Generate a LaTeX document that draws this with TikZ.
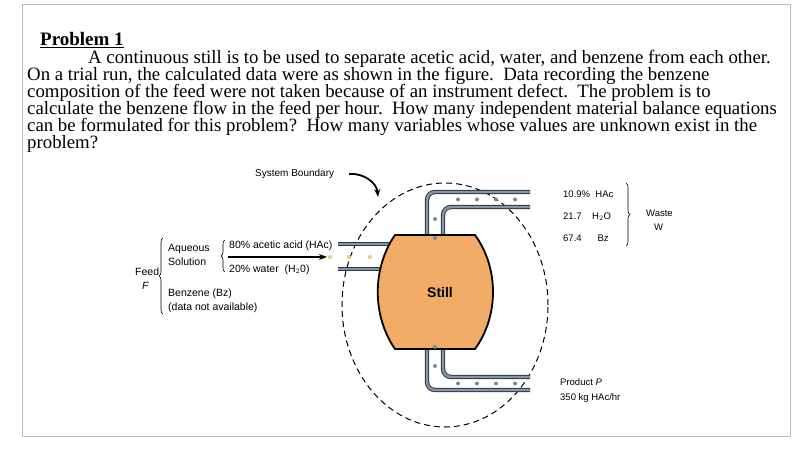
\documentclass[tikz,border=0pt]{standalone}
\usepackage{fontspec}
\setmainfont{Liberation Serif}
\setsansfont{Liberation Sans}
\usetikzlibrary{calc,arrows.meta,decorations.pathreplacing,shapes.geometric}
\definecolor{stillorange}{RGB}{240,172,102}
\definecolor{tubedark}{RGB}{45,55,68}
\definecolor{tubegray}{RGB}{135,150,165}
\definecolor{dotgray}{RGB}{110,140,150}
\definecolor{dotyellow}{RGB}{230,200,110}
\begin{document}
\begin{tikzpicture}[x=1pt,y=-1pt,
  body/.style={anchor=base west,inner sep=0pt,font=\fontsize{18.8}{17}\selectfont},
  lbl/.style={anchor=base west,inner sep=0pt,font=\sffamily\fontsize{10.5}{12}\selectfont},
  tube/.style={draw=tubedark,double=tubegray,double distance=2.4pt,line width=1pt,rounded corners=8pt},
  brc/.style={decorate,decoration={brace,amplitude=4pt},semithick}]
\useasboundingbox (0,0) rectangle (800,449);
\draw[black!25,line width=1pt] (22,5) rectangle (790,436);

% problem text
\node[body,font=\bfseries\fontsize{19}{17}\selectfont] (title) at (40,46) {\underline{Problem 1}};
\node[body] (l1) at (88,64) {A continuous still is to be used to separate acetic acid, water, and benzene from each other.};
\node[body] (l2) at (27,81) {On a trial run, the calculated data were as shown in the figure.\ \ Data recording the benzene};
\node[body] (l3) at (27,98) {composition of the feed were not taken because of an instrument defect.\ \ The problem is to};
\node[body] (l4) at (27,115) {calculate the benzene flow in the feed per hour.\ \ How many independent material balance equations};
\node[body] (l5) at (27,132) {can be formulated for this problem?\ \ How many variables whose values are unknown exist in the};
\node[body] (l6) at (27,149) {problem?};

% system boundary
\node[ellipse,draw,dash pattern=on 6pt off 4pt,line width=1pt,minimum width=206pt,minimum height=244pt] (sb) at (445,305) {};
\node[lbl,font=\sffamily\fontsize{10}{12}\selectfont] (sbl) at (255,177) {System Boundary};
\coordinate (sbtip) at (378,197);
\draw[line width=1.8pt,-{Stealth[length=8pt]}] (349,174) to[out=5,in=95] (sbtip);

% pipes
\draw[tube] (427,236) |- (530,192);
\draw[tube] (443,236) |- (530,207);
\draw[tube] (427,348) |- (530,390);
\draw[tube] (443,348) |- (530,377);
\draw[tube] (338,244) -- (393,244);
\draw[tube] (338,269) -- (389,269);
\foreach \x in {458,477,496,515}{
  \fill[dotgray] (\x,199.5) circle (2pt);
  \fill[dotgray] (\x,383.5) circle (2pt);
}
\fill[dotgray] (435,219) circle (2pt);
\fill[dotgray] (435,366) circle (2pt);
\foreach \x in {330,349,370,390}{\fill[dotyellow] (\x,257) circle (2pt);}

% still
\draw[fill=stillorange,line width=1.8pt] (395,235) -- (475,235)
  .. controls (499,268) and (499,316) .. (475,349) -- (395,349)
  .. controls (372,316) and (372,268) .. cycle;
\node[font=\sffamily\bfseries\fontsize{14}{16}\selectfont] (still) at (440,292) {Still};
\fill[dotgray] (435,238) circle (2pt);
\fill[dotgray] (435,347) circle (2pt);

% feed
\node[lbl] (feed) at (135,275) {Feed};
\node[lbl] (F) at (142,289) {\itshape F};
\draw[brc] (163,314) -- (163,238);
\node[lbl] (aq) at (168,251) {Aqueous};
\node[lbl] (sol) at (168,265) {Solution};
\draw[brc] (225,272) -- (225,240);
\node[lbl] (hac) at (229,248) {80\% acetic acid (HAc)};
\node[lbl] (water) at (229,272) {20\% water\ \ (H$_2$0)};
\node[lbl] (bz) at (168,296) {Benzene (Bz)};
\node[lbl] (na) at (168,310) {(data not available)};
\coordinate (arrstart) at (228,257);
\coordinate (arrend) at (327,257);
\draw[line width=1.8pt,-{Stealth[length=8pt]}] (arrstart) -- (arrend);

% waste
\node[lbl,font=\sffamily\fontsize{9.5}{11}\selectfont] (w1) at (563,197) {10.9\%\ \ HAc};
\node[lbl,font=\sffamily\fontsize{9.5}{11}\selectfont] (w2) at (563,219) {21.7\ \ \ \ H$_2$O};
\node[lbl,font=\sffamily\fontsize{9.5}{11}\selectfont] (w3) at (563,241) {67.4\ \ \ \ \ \ Bz};
\draw[brc] (626,183) -- (626,246);
\node[lbl,font=\sffamily\fontsize{9.5}{11}\selectfont] (waste) at (646,216) {Waste};
\node[lbl,font=\sffamily\fontsize{9.5}{11}\selectfont] (W) at (654,230) {W};

% product
\node[lbl,font=\sffamily\fontsize{9.5}{11}\selectfont] (prod) at (560,385) {Product \itshape P};
\node[lbl,font=\sffamily\fontsize{9.5}{11}\selectfont] (rate) at (560,400) {350 kg HAc/hr};
\end{tikzpicture}
\end{document}
